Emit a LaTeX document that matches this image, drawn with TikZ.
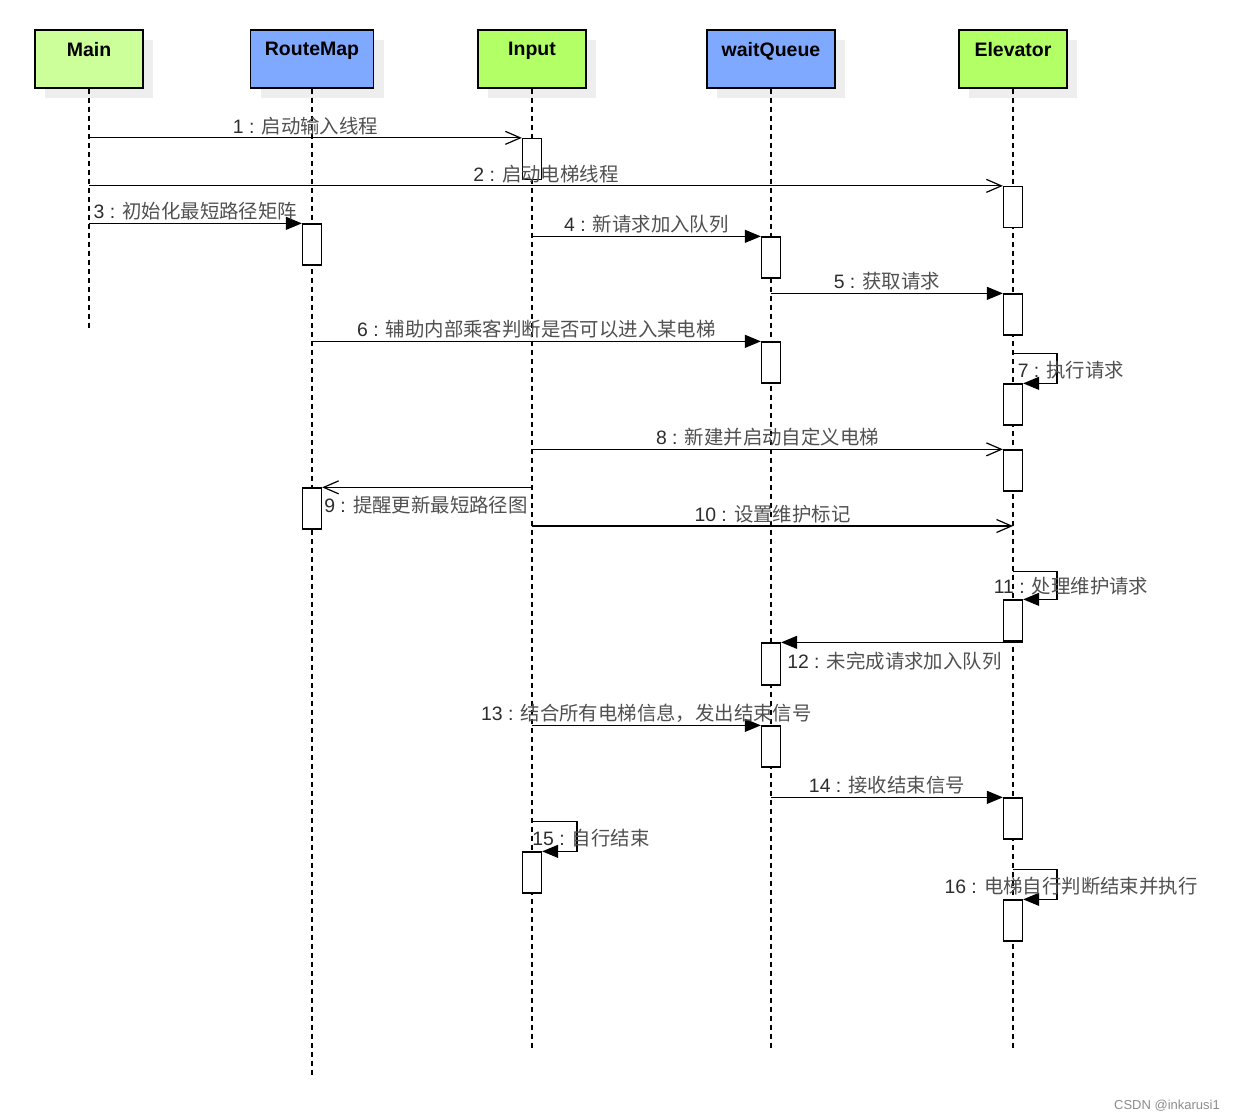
\documentclass[tikz,border=0pt]{standalone}
\usepackage{fontspec}
\setmainfont{Liberation Sans}
\newfontfamily\cjk{Noto Sans CJK SC}
\usetikzlibrary{arrows.meta,shadows}
\definecolor{gLight}{RGB}{204,255,153}
\definecolor{gBright}{RGB}{179,255,102}
\definecolor{bHead}{RGB}{127,168,255}
\definecolor{shc}{RGB}{238,238,238}
\definecolor{labc}{RGB}{45,45,45}
\definecolor{cjkc}{RGB}{80,80,80}
\newcommand{\msgtxt}[2]{#1 : {\cjk\color{cjkc}#2}}
\begin{document}
\begin{tikzpicture}[x=1pt,y=-1pt,
  head/.style={draw, line width=1.3pt, minimum height=58pt, inner sep=0pt,
    drop shadow={shadow xshift=10pt, shadow yshift=-10pt, fill=shc, opacity=1}},
  title/.style={font=\bfseries\fontsize{19.5}{21}\selectfont, inner sep=0pt, anchor=north},
  life/.style={line width=1.3pt, dash pattern=on 5pt off 4pt},
  act/.style={draw, fill=white, line width=1.3pt, minimum width=19pt, minimum height=41pt, inner sep=0pt},
  msgline/.style={line width=1.2pt},
  openar/.style={msgline, -{Straight Barb[length=15pt,width=13pt,line width=1.2pt]}},
  filledar/.style={msgline, -{Triangle[length=16pt,width=13pt]}},
  lab/.style={font=\fontsize{19.4}{21}\selectfont, text=labc, inner sep=0pt}
]
\useasboundingbox (0,0) rectangle (1236,1119);

% heads
\node[head, fill=gLight, minimum width=108pt] (main) at (89,59) {};
\node[head, fill=bHead, minimum width=123pt] (rm) at (312,59) {};
\node[head, fill=gBright, minimum width=108pt] (inp) at (532,59) {};
\node[head, fill=bHead, minimum width=128pt] (wq) at (771,59) {};
\node[head, fill=gBright, minimum width=108pt] (el) at (1013,59) {};
\node[title] (tmain) at ([yshift=-12.5pt]main.north) {Main};
\node[title] (trm) at ([yshift=-12.5pt]rm.north) {RouteMap};
\node[title] (tinp) at ([yshift=-12.5pt]inp.north) {Input};
\node[title] (twq) at ([yshift=-12.5pt]wq.north) {waitQueue};
\node[title] (tel) at ([yshift=-12.5pt]el.north) {Elevator};

% lifeline ends
\coordinate (endMain) at (89,328);
\coordinate (endRm) at (312,1075);
\coordinate (endInp) at (532,1050);
\coordinate (endWq) at (771,1050);
\coordinate (endEl) at (1013,1050);
\draw[life] (main.south) -- (endMain);
\draw[life] (rm.south) -- (endRm);
\draw[life] (inp.south) -- (endInp);
\draw[life] (wq.south) -- (endWq);
\draw[life] (el.south) -- (endEl);

% activations
\node[act] (a1) at (532,159) {};
\node[act] (a2) at (1013,207) {};
\node[act] (a3) at (312,244.5) {};
\node[act] (a4) at (771,257.5) {};
\node[act] (a5) at (1013,314.5) {};
\node[act] (a6) at (771,362.5) {};
\node[act] (a7) at (1013,404.5) {};
\node[act] (a8) at (1013,470.5) {};
\node[act] (a9) at (312,508.5) {};
\node[act] (a11) at (1013,620.5) {};
\node[act, minimum height=42pt] (a12) at (771,664) {};
\node[act] (a13) at (771,746.5) {};
\node[act] (a14) at (1013,818.5) {};
\node[act] (a15) at (532,872.5) {};
\node[act] (a16) at (1013,920.5) {};
\coordinate (m10) at (0,526);

% messages
\draw[openar] (main.south |- a1.north) -- (a1.north west)
  node[midway, lab, anchor=base, yshift=4.5pt] {\msgtxt{1}{启动输入线程}};
\draw[openar] (main.south |- a2.north) -- (a2.north west)
  node[midway, lab, anchor=base, yshift=4.5pt] {\msgtxt{2}{启动电梯线程}};
\draw[filledar] (main.south |- a3.north) -- (a3.north west)
  node[midway, lab, anchor=base, yshift=4.5pt] {\msgtxt{3}{初始化最短路径矩阵}};
\draw[filledar] (inp.south |- a4.north) -- (a4.north west)
  node[midway, lab, anchor=base, yshift=4.5pt] {\msgtxt{4}{新请求加入队列}};
\draw[filledar] (wq.south |- a5.north) -- (a5.north west)
  node[midway, lab, anchor=base, yshift=4.5pt] {\msgtxt{5}{获取请求}};
\draw[filledar] (rm.south |- a6.north) -- (a6.north west)
  node[midway, lab, anchor=base, yshift=4.5pt] {\msgtxt{6}{辅助内部乘客判断是否可以进入某电梯}};
\draw[filledar] ([yshift=30pt]a7.north) -- ++(44,0) |- (a7.north east);
\node[lab, anchor=base] (l7) at ([xshift=58pt,yshift=6pt]a7.north) {\msgtxt{7}{执行请求}};
\draw[openar] (inp.south |- a8.north) -- (a8.north west)
  node[midway, lab, anchor=base, yshift=4.5pt] {\msgtxt{8}{新建并启动自定义电梯}};
\draw[openar] (inp.south |- a9.north) -- (a9.north east)
  node[at end, lab, anchor=base west, xshift=1.5pt, yshift=-25.5pt] {\msgtxt{9}{提醒更新最短路径图}};
\draw[openar] (inp.south |- m10) -- (el.south |- m10)
  node[midway, lab, anchor=base, yshift=4.5pt] {\msgtxt{10}{设置维护标记}};
\draw[filledar] ([yshift=28pt]a11.north) -- ++(44,0) |- (a11.north east);
\node[lab, anchor=base] (l11) at ([xshift=58pt,yshift=5.5pt]a11.north) {\msgtxt{11}{处理维护请求}};
\draw[filledar] (a11.south east |- a12.north) -- (a12.north east)
  node[at end, lab, anchor=base west, xshift=5.5pt, yshift=-26.5pt] {\msgtxt{12}{未完成请求加入队列}};
\draw[filledar] (inp.south |- a13.north) -- (a13.north west)
  node[midway, lab, anchor=base, yshift=4.5pt] {\msgtxt{13}{结合所有电梯信息，发出结束信号}};
\draw[filledar] (wq.south |- a14.north) -- (a14.north west)
  node[midway, lab, anchor=base, yshift=4.5pt] {\msgtxt{14}{接收结束信号}};
\draw[filledar] ([yshift=30pt]a15.north) -- ++(45,0) |- (a15.north east);
\node[lab, anchor=base] (l15) at ([xshift=59pt,yshift=6pt]a15.north) {\msgtxt{15}{自行结束}};
\draw[filledar] ([yshift=30pt]a16.north) -- ++(44,0) |- (a16.north east);
\node[lab, anchor=base] (l16) at ([xshift=58pt,yshift=6pt]a16.north) {\msgtxt{16}{电梯自行判断结束并执行}};

\node[anchor=base east, font=\fontsize{13}{15}\selectfont, text=black!45, inner sep=0pt] (wm) at (1220,1109) {CSDN @inkarusi1};
\end{tikzpicture}
\end{document}
